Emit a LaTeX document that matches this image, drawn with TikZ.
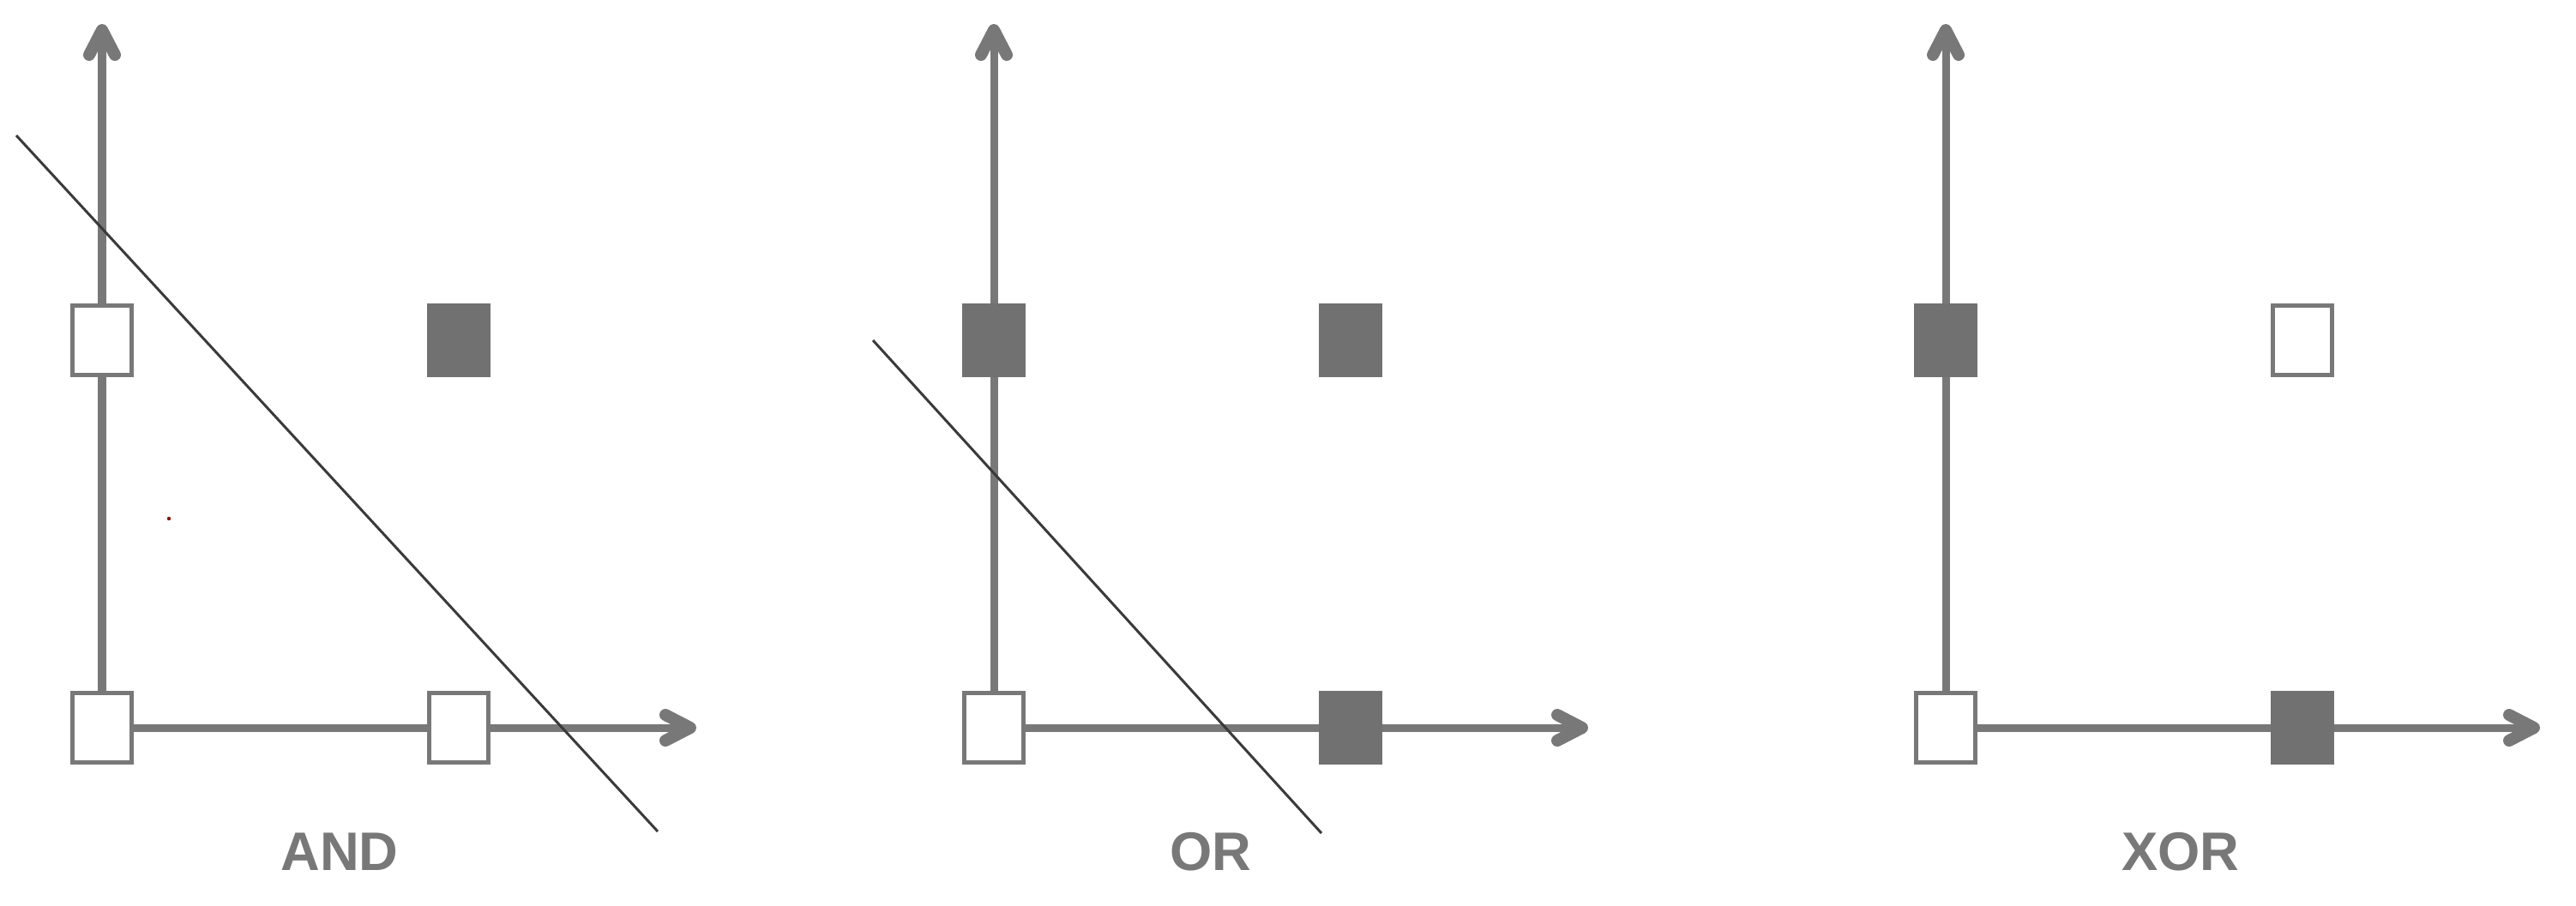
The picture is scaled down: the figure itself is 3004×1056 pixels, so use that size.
\documentclass[tikz,border=0pt]{standalone}
\usepackage{fontspec}
\setmainfont{Liberation Sans}
\usetikzlibrary{calc}
\definecolor{axisgray}{HTML}{787878}
\definecolor{pointgray}{HTML}{717171}
\definecolor{sepgray}{HTML}{3A3A3A}
\definecolor{dotred}{HTML}{8B1010}
\begin{document}
\begin{tikzpicture}[x=0.01cm, y=-0.01cm]

\tikzset{axis/.style = {draw=axisgray, line width=0.09cm}}
\tikzset{barb/.style = {draw=axisgray, line width=0.14cm, line cap=round, line join=round}}
\tikzset{open/.style = {shape=rectangle, draw=axisgray, fill=white, line width=0.05cm, minimum width=0.69cm, minimum height=0.81cm, inner sep=0pt}}
\tikzset{filled/.style = {shape=rectangle, fill=pointgray, minimum width=0.74cm, minimum height=0.86cm, inner sep=0pt}}
\tikzset{separator/.style = {draw=sepgray, line width=0.03cm}}
\tikzset{gate/.style = {text=axisgray, font=\fontsize{18}{21}\selectfont\bfseries, anchor=base}}

\useasboundingbox (0,0) rectangle (3004,1056);

%origins and axis tips
\coordinate (o1) at (119,849);
\coordinate (y1) at (119,35);
\coordinate (x1) at (805,849);
\coordinate (o2) at (1159,849);
\coordinate (y2) at (1159,35);
\coordinate (x2) at (1845,849);
\coordinate (o3) at (2269,849);
\coordinate (y3) at (2269,35);
\coordinate (x3) at (2955,849);
%axes
\draw [axis] (o1) -- (y1);
\draw [axis] (o1) -- (x1);
\draw [axis] (o2) -- (y2);
\draw [axis] (o2) -- (x2);
\draw [axis] (o3) -- (y3);
\draw [axis] (o3) -- (x3);
%arrow heads
\draw [barb] ($(y1)+(-15,29)$) -- (y1) -- ($(y1)+(15,29)$);
\draw [barb] ($(x1)+(-29,-15)$) -- (x1) -- ($(x1)+(-29,15)$);
\draw [barb] ($(y2)+(-15,29)$) -- (y2) -- ($(y2)+(15,29)$);
\draw [barb] ($(x2)+(-29,-15)$) -- (x2) -- ($(x2)+(-29,15)$);
\draw [barb] ($(y3)+(-15,29)$) -- (y3) -- ($(y3)+(15,29)$);
\draw [barb] ($(x3)+(-29,-15)$) -- (x3) -- ($(x3)+(-29,15)$);
%points AND
\node[open] (and00) at (119,849) {};
\node[open] (and10) at (535,849) {};
\node[open] (and01) at (119,397) {};
\node[filled] (and11) at (535,397) {};
%points OR
\node[open] (or00) at (1159,849) {};
\node[filled] (or10) at (1575,849) {};
\node[filled] (or01) at (1159,397) {};
\node[filled] (or11) at (1575,397) {};
%points XOR
\node[open] (xor00) at (2269,849) {};
\node[filled] (xor10) at (2685,849) {};
\node[filled] (xor01) at (2269,397) {};
\node[open] (xor11) at (2685,397) {};
%separating lines
\coordinate (s1) at (19,158);
\coordinate (e1) at (767,970);
\coordinate (s2) at (1018,397);
\coordinate (e2) at (1541,972);
\draw [separator] (s1) -- (e1);
\draw [separator] (s2) -- (e2);
\fill [dotred] (197,605) circle (0.022cm);
%labels
\node[gate] (and) at (396,1015) {AND};
\node[gate] (or) at (1412,1015) {OR};
\node[gate] (xor) at (2543,1015) {XOR};

\end{tikzpicture}
\end{document}
